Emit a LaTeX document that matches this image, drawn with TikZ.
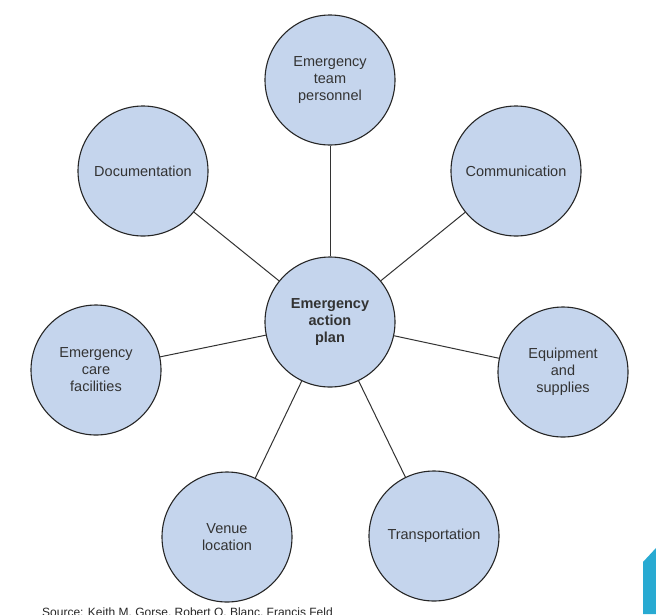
\documentclass[tikz,border=0pt]{standalone}
\usepackage{fontspec}
\setmainfont{Liberation Sans}
\begin{document}
\begin{tikzpicture}[x=1pt,y=-1pt,
  bub/.style={circle,draw=black!85,line width=1.1pt,fill=blue!10!cyan!5!white,fill=bubfill,minimum size=130pt,inner sep=0pt,align=center,font=\fontsize{14.5}{17}\selectfont,text=black!80},
  link/.style={draw=black!80,line width=1pt}]
\definecolor{bubfill}{RGB}{197,213,237}
\definecolor{teal1}{RGB}{40,170,210}
\useasboundingbox (0,0) rectangle (656,614);
\fill[white] (0,0) rectangle (656,614);
\node[bub,font=\bfseries\fontsize{14.5}{17}\selectfont] (c) at (330,322) {Emergency\\action\\plan};
\node[bub] (t) at (330,80) {Emergency\\team\\personnel};
\node[bub] (com) at (516,171) {Communication};
\node[bub] (doc) at (143,171) {Documentation};
\node[bub] (eq) at (563,372) {Equipment\\and\\supplies};
\node[bub] (care) at (96,370) {Emergency\\care\\facilities};
\node[bub] (v) at (227,537) {Venue\\location};
\node[bub] (tr) at (434,536) {Transportation};
\foreach \n in {t,com,doc,eq,care,v,tr} \draw[link] (c) -- (\n);
\node[anchor=base west,inner sep=0pt,font=\fontsize{12}{14}\selectfont,text=black!85] (src) at (42,616) {Source: Keith M. Gorse, Robert O. Blanc, Francis Feld};
\fill[teal1] (656,548) -- (643,562) -- (643,614) -- (656,614) -- cycle;
\end{tikzpicture}
\end{document}
